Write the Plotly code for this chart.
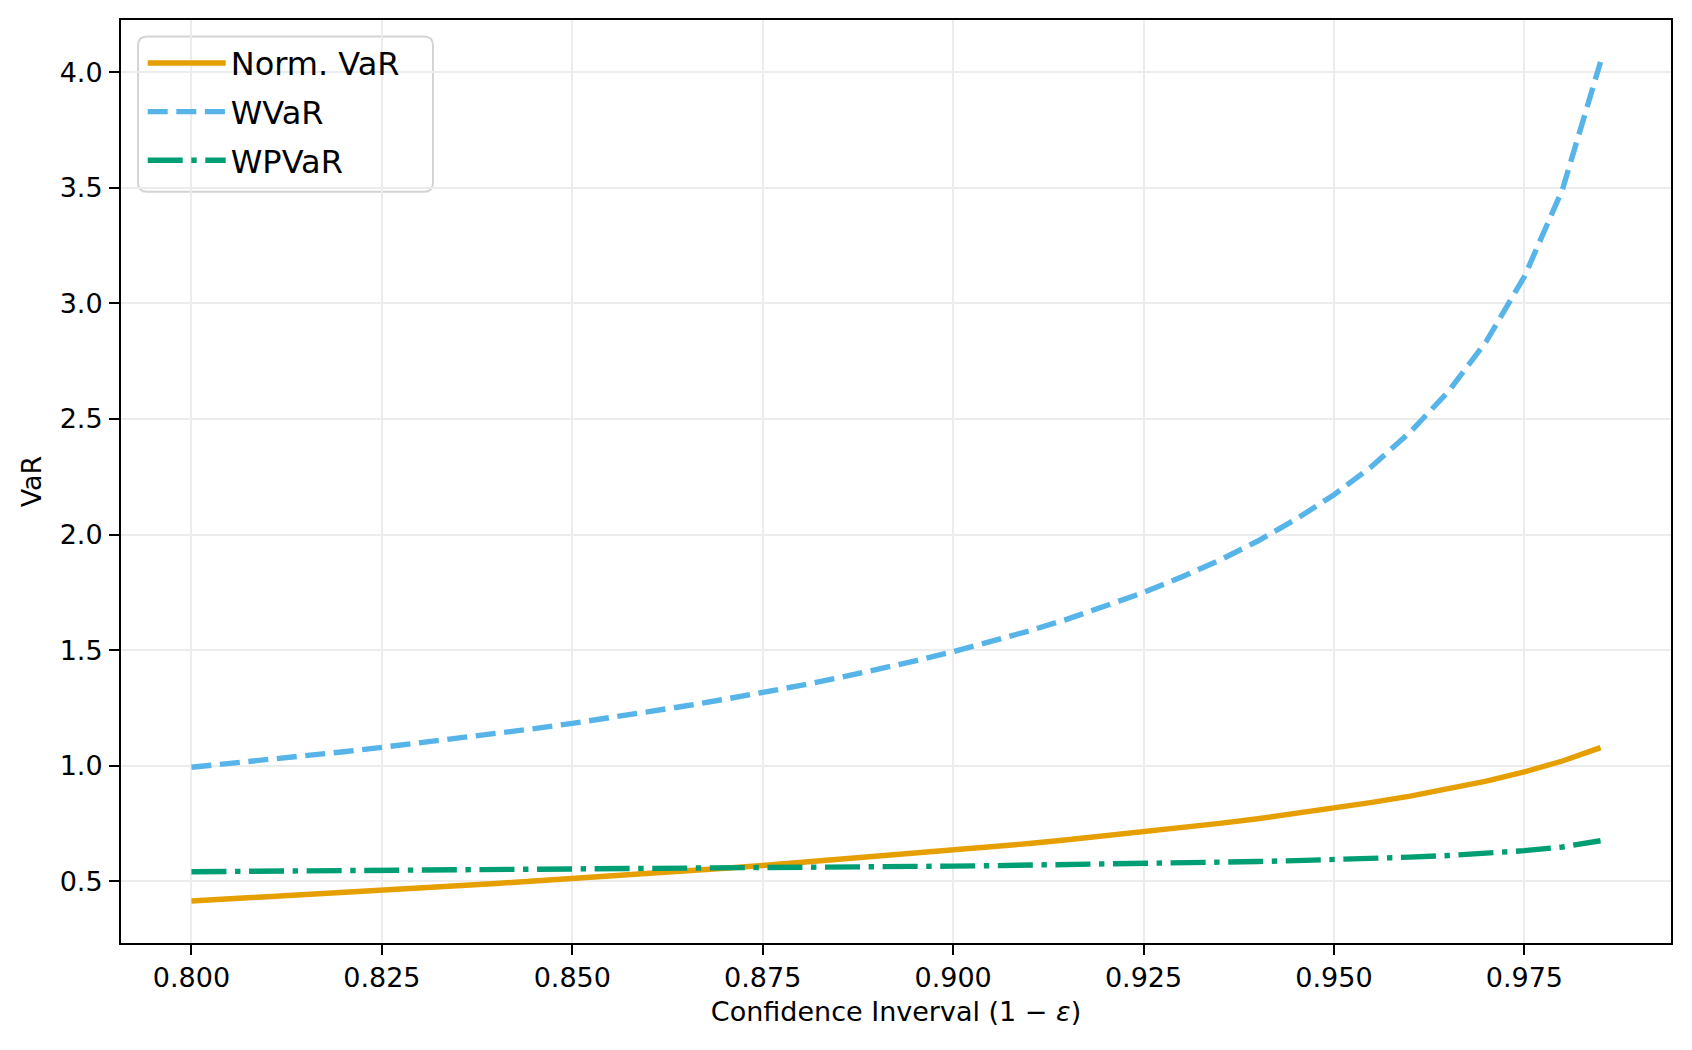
import plotly.graph_objects as go

# Confidence levels (1 - epsilon)
conf = [0.800, 0.805, 0.810, 0.815, 0.820, 0.825, 0.830, 0.835, 0.840, 0.845,
        0.850, 0.855, 0.860, 0.865, 0.870, 0.875, 0.880, 0.885, 0.890, 0.895,
        0.900, 0.905, 0.910, 0.915, 0.920, 0.925, 0.930, 0.935, 0.940, 0.945,
        0.950, 0.955, 0.960, 0.965, 0.970, 0.975, 0.980, 0.985]

norm_var = [0.414, 0.423, 0.432, 0.441, 0.451, 0.460, 0.470, 0.480, 0.490, 0.501,
            0.511, 0.522, 0.533, 0.545, 0.556, 0.568, 0.581, 0.593, 0.606, 0.620,
            0.634, 0.648, 0.663, 0.679, 0.696, 0.713, 0.731, 0.750, 0.770, 0.792,
            0.815, 0.841, 0.868, 0.899, 0.933, 0.973, 1.020, 1.078]

wvar = [0.993, 1.009, 1.025, 1.042, 1.060, 1.079, 1.098, 1.118, 1.139, 1.160,
        1.183, 1.207, 1.232, 1.259, 1.287, 1.316, 1.347, 1.380, 1.415, 1.453,
        1.493, 1.536, 1.583, 1.634, 1.689, 1.749, 1.816, 1.889, 1.972, 2.066,
        2.172, 2.296, 2.443, 2.618, 2.836, 3.116, 3.493, 4.045]

wpvar = [0.541, 0.542, 0.542, 0.543, 0.544, 0.545, 0.546, 0.547, 0.548, 0.549,
         0.550, 0.551, 0.552, 0.553, 0.554, 0.556, 0.557, 0.559, 0.561, 0.563,
         0.565, 0.567, 0.569, 0.571, 0.573, 0.575, 0.578, 0.581, 0.585, 0.589,
         0.593, 0.598, 0.604, 0.611, 0.620, 0.632, 0.648, 0.675]

x_ticks = [0.800, 0.825, 0.850, 0.875, 0.900, 0.925, 0.950, 0.975]
y_ticks = [0.5, 1.0, 1.5, 2.0, 2.5, 3.0, 3.5, 4.0]

series_names = ["Norm. VaR", "WVaR", "WPVaR"]
series_colors = ["#E69F00", "#56B4E9", "#009E73"]
series_dash = ["solid", "20px,8.6px", "35px,8.6px,5.4px,8.6px"]
series_vals = [norm_var, wvar, wpvar]

FONT = "DejaVu Sans"

fig = go.Figure()
for i, (name, vals) in enumerate(zip(series_names, series_vals)):
    fig.add_trace(go.Scatter(
        x=conf, y=vals, mode="lines", name=name, legendgroup=name,
        line=dict(color=series_colors[i], width=5.4, dash=series_dash[i]),
    ))

xmin, xmax = min(conf), max(conf)
xpad = 0.05 * (xmax - xmin)
all_y = norm_var + wvar + wpvar
ymin, ymax = min(all_y), max(all_y)
ypad = 0.05 * (ymax - ymin)

axis_common = dict(
    showline=True, linecolor="black", linewidth=2, mirror=True,
    ticks="outside", ticklen=10, tickwidth=2, tickcolor="black",
    showgrid=True, gridcolor="#ececec", gridwidth=1.5,
    zeroline=False, tickfont=dict(family=FONT, size=27, color="black"),
)

fig.update_xaxes(
    range=[xmin - xpad, xmax + xpad], tickvals=x_ticks, tickformat=".3f",
    ticklabelstandoff=0,
    title=dict(text="Confidence Inverval (1 − <i>ε</i>)",
               font=dict(family=FONT, size=27, color="black"), standoff=10),
    **axis_common,
)
fig.update_yaxes(
    range=[ymin - ypad, ymax + ypad], tickvals=y_ticks, tickformat=".1f",
    ticklabelstandoff=1,
    title=dict(text="VaR", font=dict(family=FONT, size=27, color="black"), standoff=10),
    **axis_common,
)

# rounded legend frame (decoration)
pw, ph = 1550.0, 923.0
bx0, bx1 = 0.011, 0.2013
by0, by1 = 0.814, 0.982
rx, ry = 9 / pw, 9 / ph
path = (f"M{bx0+rx},{by1} L{bx1-rx},{by1} Q{bx1},{by1} {bx1},{by1-ry} "
        f"L{bx1},{by0+ry} Q{bx1},{by0} {bx1-rx},{by0} "
        f"L{bx0+rx},{by0} Q{bx0},{by0} {bx0},{by0+ry} "
        f"L{bx0},{by1-ry} Q{bx0},{by1} {bx0+rx},{by1} Z")
fig.add_shape(type="path", path=path, xref="paper", yref="paper",
              line=dict(color="#d4d4d4", width=2), fillcolor="rgba(255,255,255,0.85)",
              layer="between")

fig.update_layout(
    width=1692, height=1050,
    margin=dict(l=121, r=21, t=20, b=107),
    paper_bgcolor="white", plot_bgcolor="white",
    font=dict(family=FONT, color="black"),
    legend=dict(
        x=0.014, y=0.983, xanchor="left", yanchor="top",
        bgcolor="rgba(0,0,0,0)", borderwidth=0,
        font=dict(family=FONT, size=32, color="black"),
        itemwidth=78, tracegroupgap=4,
    ),
    showlegend=True,
)

fig.write_html("out.html")
